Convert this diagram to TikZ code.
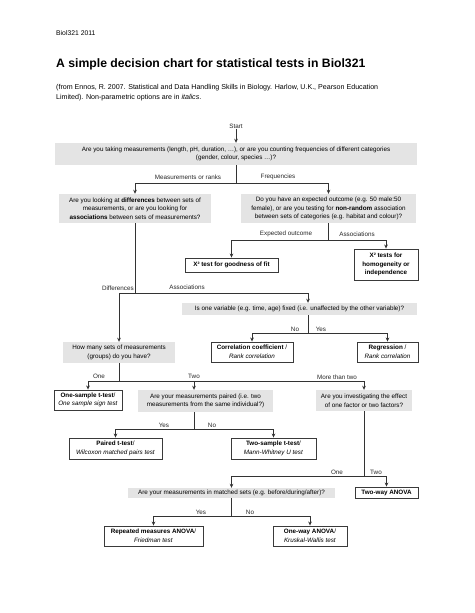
\documentclass[tikz,border=0pt]{standalone}
\usepackage{fontspec}
\setmainfont{Liberation Sans}
\usepackage{tikz}
\usetikzlibrary{arrows.meta,positioning}
\definecolor{chart-line}{HTML}{333333}
\definecolor{chart-fill}{HTML}{E4E4E4}
\definecolor{chart-edge}{HTML}{3A3A3A}
\newcommand{\bodyfont}{\fontsize{6.3}{8.6}\selectfont}

\tikzset{
  qbox/.style={fill=chart-fill, align=center, inner sep=1pt, font=\bodyfont},
  tbox/.style={draw=chart-edge, line width=0.9pt, fill=white, align=center, inner sep=1pt, font=\bodyfont},
  link/.style={draw=chart-line, line width=0.75pt, -{Stealth[length=4pt,width=3.6pt]}},
  lbl/.style={font=\bodyfont, inner sep=1pt, text=black!85}
}

\begin{document}
\begin{tikzpicture}[x=1pt, y=-1pt]
  \useasboundingbox (0,0) rectangle (474,613);

  % header
  \node[anchor=west, inner sep=0pt, font=\fontsize{6.8}{8}\selectfont] (course) at (56,33) {Biol321 2011};
  \node[anchor=west, inner sep=0pt, font=\fontsize{12.2}{14}\selectfont\bfseries] (title) at (56,64)
    {A simple decision chart for statistical tests in Biol321};
  \node[anchor=north west, inner sep=0pt, align=left, font=\fontsize{7.1}{9.8}\selectfont] (source) at (56,84.5)
    {(from Ennos, R. 2007. Statistical and Data Handling Skills in Biology. Harlow, U.K., Pearson Education\\
     Limited). Non-parametric options are in \textit{italics}.};

  % questions and tests
  \node[lbl] (start) at (236,126) {Start};
  \node[qbox, minimum width=362pt, minimum height=22pt] (data) at (236,154)
    {Are you taking measurements (length, pH, duration, \dots), or are you counting frequencies of different categories\\
     (gender, colour, species \dots)?};
  \node[qbox, minimum width=152pt, minimum height=29pt] (meas) at (135,208.5)
    {Are you looking at \textbf{differences} between sets of\\ measurements, or are you looking for\\
     \textbf{associations} between sets of measurements?};
  \node[qbox, minimum width=175pt, minimum height=29pt] (freq) at (328.5,208.5)
    {Do you have an expected outcome (e.g. 50 male:50\\ female), or are you testing for \textbf{non-random} association\\
     between sets of categories (e.g. habitat and colour)?};
  \node[tbox, minimum width=93pt, minimum height=14pt] (chigood) at (231.5,265)
    {\textbf{X² test for goodness of fit}};
  \node[tbox, minimum width=64pt, minimum height=31pt] (chihom) at (386,264.5)
    {\textbf{X² tests for}\\ \textbf{homogeneity or}\\ \textbf{independence}};
  \node[qbox, minimum width=235pt, minimum height=12pt] (fixed) at (299.5,309)
    {Is one variable (e.g. time, age) fixed (i.e. unaffected by the other variable)?};
  \node[tbox, minimum width=82pt, minimum height=20pt] (corr) at (252,352)
    {\textbf{Correlation coefficient} /\\ \textit{Rank correlation}};
  \node[tbox, minimum width=61pt, minimum height=20pt] (regr) at (387.5,352)
    {\textbf{Regression} /\\ \textit{Rank correlation}};
  \node[qbox, minimum width=112pt, minimum height=21pt] (groups) at (119,352.5)
    {How many sets of measurements\\ (groups) do you have?};
  \node[tbox, minimum width=68pt, minimum height=20pt] (onesample) at (88,400)
    {\textbf{One-sample t-test}/\\ \textit{One sample sign test}};
  \node[qbox, minimum width=135pt, minimum height=22pt] (paired) at (205.5,401)
    {Are your measurements paired (i.e. two\\ measurements from the same individual?)};
  \node[qbox, minimum width=96pt, minimum height=21pt] (factors) at (364,400.5)
    {Are you investigating the effect\\ of one factor or two factors?};
  \node[tbox, minimum width=93pt, minimum height=21pt] (pairedt) at (115.5,448.5)
    {\textbf{Paired t-test}/\\ \textit{Wilcoxon matched pairs test}};
  \node[tbox, minimum width=85pt, minimum height=21pt] (twosample) at (273.5,448.5)
    {\textbf{Two-sample t-test}/\\ \textit{Mann-Whitney U test}};
  \node[qbox, minimum width=207pt, minimum height=10pt] (matched) at (231.5,493)
    {Are your measurements in matched sets (e.g. before/during/after)?};
  \node[tbox, minimum width=63pt, minimum height=11pt] (twoway) at (386.5,492.5)
    {\textbf{Two-way ANOVA}};
  \node[tbox, minimum width=99pt, minimum height=20pt] (repeated) at (153.5,536)
    {\textbf{Repeated measures ANOVA}/\\ \textit{Friedman test}};
  \node[tbox, minimum width=74pt, minimum height=20pt] (oneway) at (310,536)
    {\textbf{One-way ANOVA}/\\ \textit{Kruskal-Wallis test}};

  % connectors
  \draw[link] (start) -- (data);
  \draw[link] (data.south) -- ++(0,18) -| (meas.north);
  \draw[link] (data.south) -- ++(0,18) -| (freq.north);
  \draw[link] (freq.south) -- ++(0,17) -| (chigood.north);
  \draw[link] (freq.south) -- ++(0,17) -| (chihom.north);
  \draw[link] (meas.south) -- ++(0,70) -| (groups.north);
  \draw[link] (meas.south) -- ++(0,70) -| ([xshift=8.5pt]fixed.north);
  \draw[link] ([xshift=8.5pt]fixed.south) -- ++(0,18) -| (corr.north);
  \draw[link] ([xshift=8.5pt]fixed.south) -- ++(0,18) -| (regr.north);
  \draw[link] (groups.south) -- ++(0,18) -| (onesample.north);
  \draw[link] (groups.south) -- ++(0,18) -| ([xshift=-11.5pt]paired.north);
  \draw[link] (groups.south) -- ++(0,18) -| (factors.north);
  \draw[link] ([xshift=-11.5pt]paired.south) -- ++(0,17) -| (pairedt.north);
  \draw[link] ([xshift=-11.5pt]paired.south) -- ++(0,17) -| (twosample.north);
  \draw[link] (factors.south) -- ++(0,65) -| (matched.north);
  \draw[link] (factors.south) -- ++(0,65) -| (twoway.north);
  \draw[link] (matched.south) -- ++(0,18) -| (repeated.north);
  \draw[link] (matched.south) -- ++(0,18) -| (oneway.north);

  % branch labels
  \node[lbl] (l-meas) at (188,177) {Measurements or ranks};
  \node[lbl] (l-freq) at (278,177) {Frequencies};
  \node[lbl] (l-exp) at (286,234) {Expected outcome};
  \node[lbl] (l-assoc) at (357,234) {Associations};
  \node[lbl, anchor=east] (l-diff) at (135,288) {Differences};
  \node[lbl] (l-assoc2) at (187,287) {Associations};
  \node[lbl] (l-no) at (295,329) {No};
  \node[lbl] (l-yes) at (321,329) {Yes};
  \node[lbl] (l-one) at (99,376) {One};
  \node[lbl] (l-two) at (194,376) {Two};
  \node[lbl] (l-more) at (337,377) {More than two};
  \node[lbl] (l-pyes) at (164,425) {Yes};
  \node[lbl] (l-pno) at (212,425) {No};
  \node[lbl] (l-fone) at (337,472) {One};
  \node[lbl] (l-ftwo) at (376,472) {Two};
  \node[lbl] (l-myes) at (201,512) {Yes};
  \node[lbl] (l-mno) at (250,512) {No};
\end{tikzpicture}
\end{document}
